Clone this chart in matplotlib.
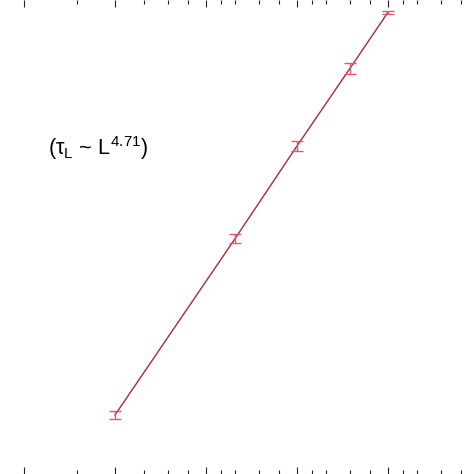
import matplotlib
matplotlib.use("Agg")
import matplotlib.pyplot as plt
from matplotlib.ticker import FixedLocator, NullFormatter

plt.rcParams['font.family'] = ['Liberation Sans', 'DejaVu Sans']
plt.rcParams['mathtext.fontset'] = 'custom'
plt.rcParams['mathtext.rm'] = 'Liberation Sans'
plt.rcParams['mathtext.it'] = 'Liberation Sans'
plt.rcParams['mathtext.bf'] = 'Liberation Sans:bold'

# data
L = [4, 10, 16, 24, 32]
tau = [700, 51450, 485800, 3.236e6, 1.255e7]
tau_err = [70, 6000, 60000, 450000, 460000]
major_ticks = [2, 4, 8, 16, 32]
minor_ticks = [3, 5, 6, 7, 9, 10, 12, 14, 18, 20, 24, 28, 36, 40, 48, 56]
label = r'$(\tau_{L}$ ~ $L^{4.71})$'

fig = plt.figure(figsize=(4.74, 4.74), dpi=100)
ax = fig.add_axes([0, 0, 1, 1])
ax.set_xscale('log')
ax.set_yscale('log')

ax.plot(L, tau, color='#a8283c', lw=1.0, zorder=2)
ax.errorbar(L, tau, yerr=tau_err, fmt='none', ecolor='#e2586a',
            elinewidth=1.0, capsize=4, capthick=1.0, zorder=3)

ax.set_xlim(2 * 2 ** (-24 / 91), 2 * 2 ** (450 / 91))
ax.set_ylim(2 ** 7.381, 2 ** 24.012)

for s in ax.spines.values():
    s.set_visible(False)

ax.xaxis.set_major_locator(FixedLocator(major_ticks))
ax.xaxis.set_minor_locator(FixedLocator(minor_ticks))
ax.xaxis.set_major_formatter(NullFormatter())
ax.xaxis.set_minor_formatter(NullFormatter())
ax.tick_params(axis='x', which='both', direction='in', top=True, bottom=True,
               labelbottom=False, labeltop=False, color='#222222', width=0.8)
ax.tick_params(axis='x', which='major', length=5)
ax.tick_params(axis='x', which='minor', length=3)
ax.yaxis.set_major_locator(FixedLocator([]))
ax.yaxis.set_minor_locator(FixedLocator([]))
ax.tick_params(axis='y', which='both', left=False, right=False,
               labelleft=False)

ax.text(0.101, 0.672, label, transform=ax.transAxes, fontsize=15.5,
        ha='left', va='baseline', color='black')

fig.savefig('out.png', dpi=100)
